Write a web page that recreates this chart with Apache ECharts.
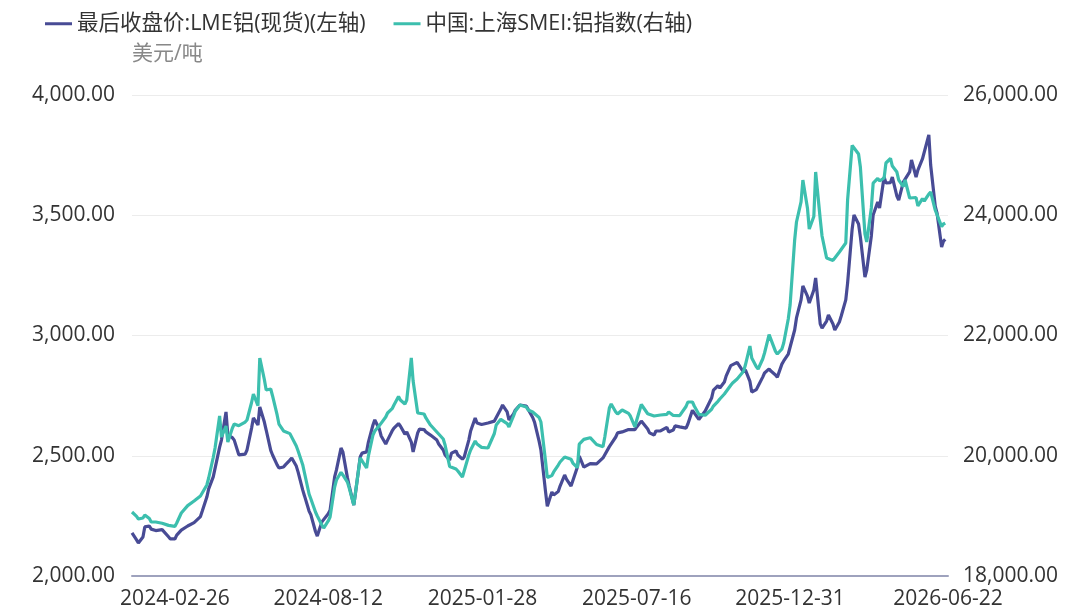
<!DOCTYPE html>
<html>
<head>
<meta charset="utf-8">
<script src="https://cdn.jsdelivr.net/npm/echarts@6/dist/echarts.min.js"></script>
<style>
  html, body { margin: 0; padding: 0; background: #fff; }
  #chart { width: 1080px; height: 613px; }
</style>
</head>
<body>
<div id="chart"></div>
<script>
// twice-weekly samples (Wed, following Mon)
const dates = [
  '2024-01-10','2024-01-15','2024-01-17','2024-01-22','2024-01-24','2024-01-29','2024-01-31','2024-02-05',
  '2024-02-07','2024-02-12','2024-02-14','2024-02-19','2024-02-21','2024-02-26','2024-02-28','2024-03-04',
  '2024-03-06','2024-03-11','2024-03-13','2024-03-18','2024-03-20','2024-03-25','2024-03-27','2024-04-01',
  '2024-04-03','2024-04-08','2024-04-10','2024-04-15','2024-04-17','2024-04-22','2024-04-24','2024-04-29',
  '2024-05-01','2024-05-06','2024-05-08','2024-05-13','2024-05-15','2024-05-20','2024-05-22','2024-05-27',
  '2024-05-29','2024-06-03','2024-06-05','2024-06-10','2024-06-12','2024-06-17','2024-06-19','2024-06-24',
  '2024-06-26','2024-07-01','2024-07-03','2024-07-08','2024-07-10','2024-07-15','2024-07-17','2024-07-22',
  '2024-07-24','2024-07-29','2024-07-31','2024-08-05','2024-08-07','2024-08-12','2024-08-14','2024-08-19',
  '2024-08-21','2024-08-26','2024-08-28','2024-09-02','2024-09-04','2024-09-09','2024-09-11','2024-09-16',
  '2024-09-18','2024-09-23','2024-09-25','2024-09-30','2024-10-02','2024-10-07','2024-10-09','2024-10-14',
  '2024-10-16','2024-10-21','2024-10-23','2024-10-28','2024-10-30','2024-11-04','2024-11-06','2024-11-11',
  '2024-11-13','2024-11-18','2024-11-20','2024-11-25','2024-11-27','2024-12-02','2024-12-04','2024-12-09',
  '2024-12-11','2024-12-16','2024-12-18','2024-12-23','2024-12-25','2024-12-30',
  '2025-01-01','2025-01-06','2025-01-08','2025-01-13','2025-01-15','2025-01-20','2025-01-22','2025-01-27',
  '2025-01-29','2025-02-03','2025-02-05','2025-02-10','2025-02-12','2025-02-17','2025-02-19','2025-02-24',
  '2025-02-26','2025-03-03','2025-03-05','2025-03-10','2025-03-12','2025-03-17','2025-03-19','2025-03-24',
  '2025-03-26','2025-03-31','2025-04-02','2025-04-07','2025-04-09','2025-04-14','2025-04-16','2025-04-21',
  '2025-04-23','2025-04-28','2025-04-30','2025-05-05','2025-05-07','2025-05-12','2025-05-14','2025-05-19',
  '2025-05-21','2025-05-26','2025-05-28','2025-06-02','2025-06-04','2025-06-09','2025-06-11','2025-06-16',
  '2025-06-18','2025-06-23','2025-06-25','2025-06-30','2025-07-02','2025-07-07','2025-07-09','2025-07-14',
  '2025-07-16','2025-07-21','2025-07-23','2025-07-28','2025-07-30','2025-08-04','2025-08-06','2025-08-11',
  '2025-08-13','2025-08-18','2025-08-20','2025-08-25','2025-08-27','2025-09-01','2025-09-03','2025-09-08',
  '2025-09-10','2025-09-15','2025-09-17','2025-09-22','2025-09-24','2025-09-29','2025-10-01','2025-10-06',
  '2025-10-08','2025-10-13','2025-10-15','2025-10-20','2025-10-22','2025-10-27','2025-10-29','2025-11-03',
  '2025-11-05','2025-11-10','2025-11-12','2025-11-17','2025-11-19','2025-11-24','2025-11-26','2025-12-01',
  '2025-12-03','2025-12-08','2025-12-10','2025-12-15','2025-12-17','2025-12-22','2025-12-24','2025-12-29',
  '2025-12-31','2026-01-05',
  '2026-01-07','2026-01-12','2026-01-14','2026-01-19','2026-01-21','2026-01-26','2026-01-28','2026-02-02',
  '2026-02-04','2026-02-09','2026-02-11','2026-02-16','2026-02-18','2026-02-23','2026-02-25','2026-03-02',
  '2026-03-04','2026-03-09','2026-03-11','2026-03-16','2026-03-18','2026-03-23','2026-03-25','2026-03-30',
  '2026-04-01','2026-04-06','2026-04-08','2026-04-13','2026-04-15','2026-04-20','2026-04-22','2026-04-27',
  '2026-04-29','2026-05-04','2026-05-06','2026-05-11','2026-05-13','2026-05-18','2026-05-20','2026-05-25',
  '2026-05-27','2026-06-01','2026-06-03','2026-06-08','2026-06-10','2026-06-15','2026-06-17','2026-06-19'
];

// 最后收盘价:LME铝(现货), USD/t
const lmeSpot = [
  2179, 2150, 2137, 2162, 2204, 2208, 2195, 2189, 2195, 2193, 2187, 2163, 2154, 2154, 2170, 2191,
  2195, 2208, 2212, 2222, 2229, 2247, 2270, 2328, 2362, 2412, 2412, 2536, 2565, 2682, 2586, 2575,
  2565, 2504, 2499, 2507, 2524, 2615, 2657, 2628, 2703, 2640, 2607, 2522, 2503, 2462, 2449, 2453,
  2462, 2482, 2491, 2457, 2432, 2358, 2333, 2270, 2254, 2185, 2166, 2225, 2233, 2259, 2274, 2412,
  2441, 2532, 2516, 2409, 2374, 2295, 2349, 2495, 2511, 2516, 2557, 2628, 2649, 2611, 2582, 2549,
  2565, 2603, 2615, 2634, 2624, 2590, 2599, 2557, 2516, 2595, 2611, 2609, 2599, 2586, 2590, 2565,
  2549, 2524, 2503, 2482, 2511, 2520, 2503, 2486, 2495, 2565, 2603, 2657, 2636, 2630, 2636, 2636,
  2636, 2644, 2649, 2694, 2711, 2682, 2649, 2674, 2690, 2711, 2715, 2707, 2699, 2659, 2640, 2561,
  2524, 2353, 2290, 2349, 2337, 2351, 2374, 2420, 2403, 2374, 2366, 2453, 2499, 2453, 2457, 2467,
  2466, 2466, 2470, 2491, 2499, 2538, 2545, 2578, 2595, 2599, 2607, 2609, 2603, 2609, 2620, 2644,
  2644, 2611, 2595, 2586, 2603, 2603, 2595, 2618, 2599, 2607, 2624, 2620, 2615, 2615, 2632, 2689,
  2678, 2651, 2657, 2686, 2690, 2740, 2773, 2791, 2782, 2807, 2832, 2875, 2873, 2888, 2877, 2848,
  2857, 2809, 2765, 2775, 2790, 2827, 2844, 2861, 2852, 2836, 2827, 2881, 2894, 2923, 2931, 3023,
  3073, 3148, 3206, 3164, 3135, 3189, 3239, 3048, 3031, 3060, 3085, 3048, 3023, 3056, 3081, 3148,
  3218, 3443, 3501, 3464, 3410, 3243, 3272, 3414, 3501, 3555, 3530, 3659, 3634, 3636, 3659, 3580,
  3563, 3638, 3630, 3680, 3730, 3659, 3688, 3734, 3742, 3834, 3709, 3538, 3509, 3368, 3392, 3400
];

// 中国:上海SMEI:铝指数
const smeiIndex = [
  19064, 18991, 18948, 18965, 19015, 18955, 18898, 18898, 18898, 18878, 18865, 18842, 18815, 18825, 18881, 19048,
  19081, 19171, 19197, 19247, 19264, 19331, 19347, 19514, 19630, 19971, 20129, 20661, 20312, 20495, 20229, 20462,
  20528, 20500, 20478, 20561, 20595, 20886, 21027, 20834, 21626, 21268, 21094, 21110, 20994, 20678, 20528, 20412,
  20428, 20368, 20345, 20162, 20079, 19851, 19713, 19364, 19281, 19064, 18998, 18848, 18798, 18915, 18981, 19480,
  19597, 19725, 19680, 19563, 19464, 19181, 19214, 19963, 19979, 19796, 19996, 20345, 20412, 20501, 20528, 20644,
  20711, 20783, 20844, 20985, 20927, 20861, 20927, 21626, 21243, 20711, 20694, 20694, 20628, 20511, 20478, 20395,
  20362, 20279, 20179, 19823, 19830, 19780, 19746, 19647, 19663, 20012, 20096, 20245, 20195, 20139, 20129, 20129,
  20129, 20370, 20511, 20606, 20628, 20535, 20478, 20661, 20744, 20844, 20861, 20811, 20761, 20728, 20728, 20636,
  20561, 19918, 19640, 19670, 19730, 19846, 19896, 19979, 20012, 19941, 19879, 19801, 20195, 20272, 20262, 20300,
  20312, 20187, 20162, 20150, 20312, 20794, 20861, 20728, 20694, 20761, 20794, 20704, 20661, 20481, 20595, 20852,
  20861, 20699, 20678, 20661, 20694, 20678, 20661, 20689, 20728, 20671, 20644, 20666, 20678, 20819, 20894, 20894,
  20827, 20689, 20661, 20673, 20694, 20773, 20827, 20906, 20944, 21027, 21060, 21172, 21210, 21277, 21310, 21404,
  21509, 21825, 21626, 21479, 21443, 21609, 21709, 22015, 21992, 21737, 21692, 21775, 21875, 22274, 22507, 23588,
  23888, 24224, 24586, 24121, 23771, 23978, 24719, 23938, 23655, 23289, 23256, 23249, 23289, 23389, 23422, 23538,
  24254, 25160, 25185, 25019, 24802, 23688, 23555, 24121, 24536, 24615, 24570, 24620, 24869, 24944, 24819, 24719,
  24586, 24477, 24586, 24287, 24287, 24295, 24154, 24277, 24237, 24353, 24387, 24087, 24087, 23811, 23854, 23870
];

const xTickLabels = ['2024-02-26', '2024-08-12', '2025-01-28', '2025-07-16', '2025-12-31', '2026-06-22'];
const xStart = '2024-01-10';
const xEnd = '2026-06-22';

const seriesNames = ['最后收盘价:LME铝(现货)(左轴)', '中国:上海SMEI:铝指数(右轴)'];
const colors = ['#484b95', '#3cbfae'];

const font = '"Open Sans", "Noto Sans CJK SC", sans-serif';

function fmt(v) {
  return Number(v).toLocaleString('en-US', {minimumFractionDigits: 2, maximumFractionDigits: 2});
}
// dates as UTC timestamps on a plain value axis
const ts = (d) => Date.parse(d);
const dayLabel = (v) => new Date(v).toISOString().slice(0, 10);

const chart = echarts.init(document.getElementById('chart'));
chart.setOption({
  animation: false,
  color: colors,
  textStyle: {fontFamily: font},
  legend: {
    left: 40,
    top: 8,
    icon: 'rect',
    itemWidth: 27,
    itemHeight: 3,
    itemGap: 28,
    textStyle: {fontSize: 21.5, color: '#333', fontFamily: font},
    data: seriesNames
  },
  grid: {left: 132, right: 132, top: 95, bottom: 37},
  xAxis: {
    type: 'value',
    min: ts(xStart),
    max: ts(xEnd),
    axisLine: {lineStyle: {color: '#9ea2bd', width: 2}},
    axisTick: {show: false},
    splitLine: {show: false},
    axisLabel: {
      customValues: xTickLabels.map(ts),
      fontSize: 21,
      color: '#333',
      margin: 13,
      hideOverlap: false,
      formatter: dayLabel
    }
  },
  yAxis: [
    {
      type: 'value',
      min: 2000,
      max: 4000,
      interval: 500,
      name: '美元/吨',
      nameLocation: 'end',
      nameGap: 30,
      nameTextStyle: {align: 'left', color: '#888', fontSize: 21, fontFamily: font},
      axisLine: {show: false},
      axisTick: {show: false},
      splitLine: {lineStyle: {color: '#ececec'}},
      axisLabel: {fontSize: 21, color: '#333', margin: 17, formatter: fmt}
    },
    {
      type: 'value',
      min: 18000,
      max: 26000,
      interval: 2000,
      axisLine: {show: false},
      axisTick: {show: false},
      splitLine: {show: false},
      axisLabel: {fontSize: 21, color: '#333', margin: 15, formatter: fmt}
    }
  ],
  series: [
    {
      name: seriesNames[0],
      type: 'line',
      yAxisIndex: 0,
      showSymbol: false,
      lineStyle: {width: 3.2, color: colors[0]},
      itemStyle: {color: colors[0]},
      data: dates.map((d, i) => [ts(d), lmeSpot[i]])
    },
    {
      name: seriesNames[1],
      type: 'line',
      yAxisIndex: 1,
      showSymbol: false,
      lineStyle: {width: 3.2, color: colors[1]},
      itemStyle: {color: colors[1]},
      data: dates.map((d, i) => [ts(d), smeiIndex[i]])
    }
  ]
});
</script>
</body>
</html>
